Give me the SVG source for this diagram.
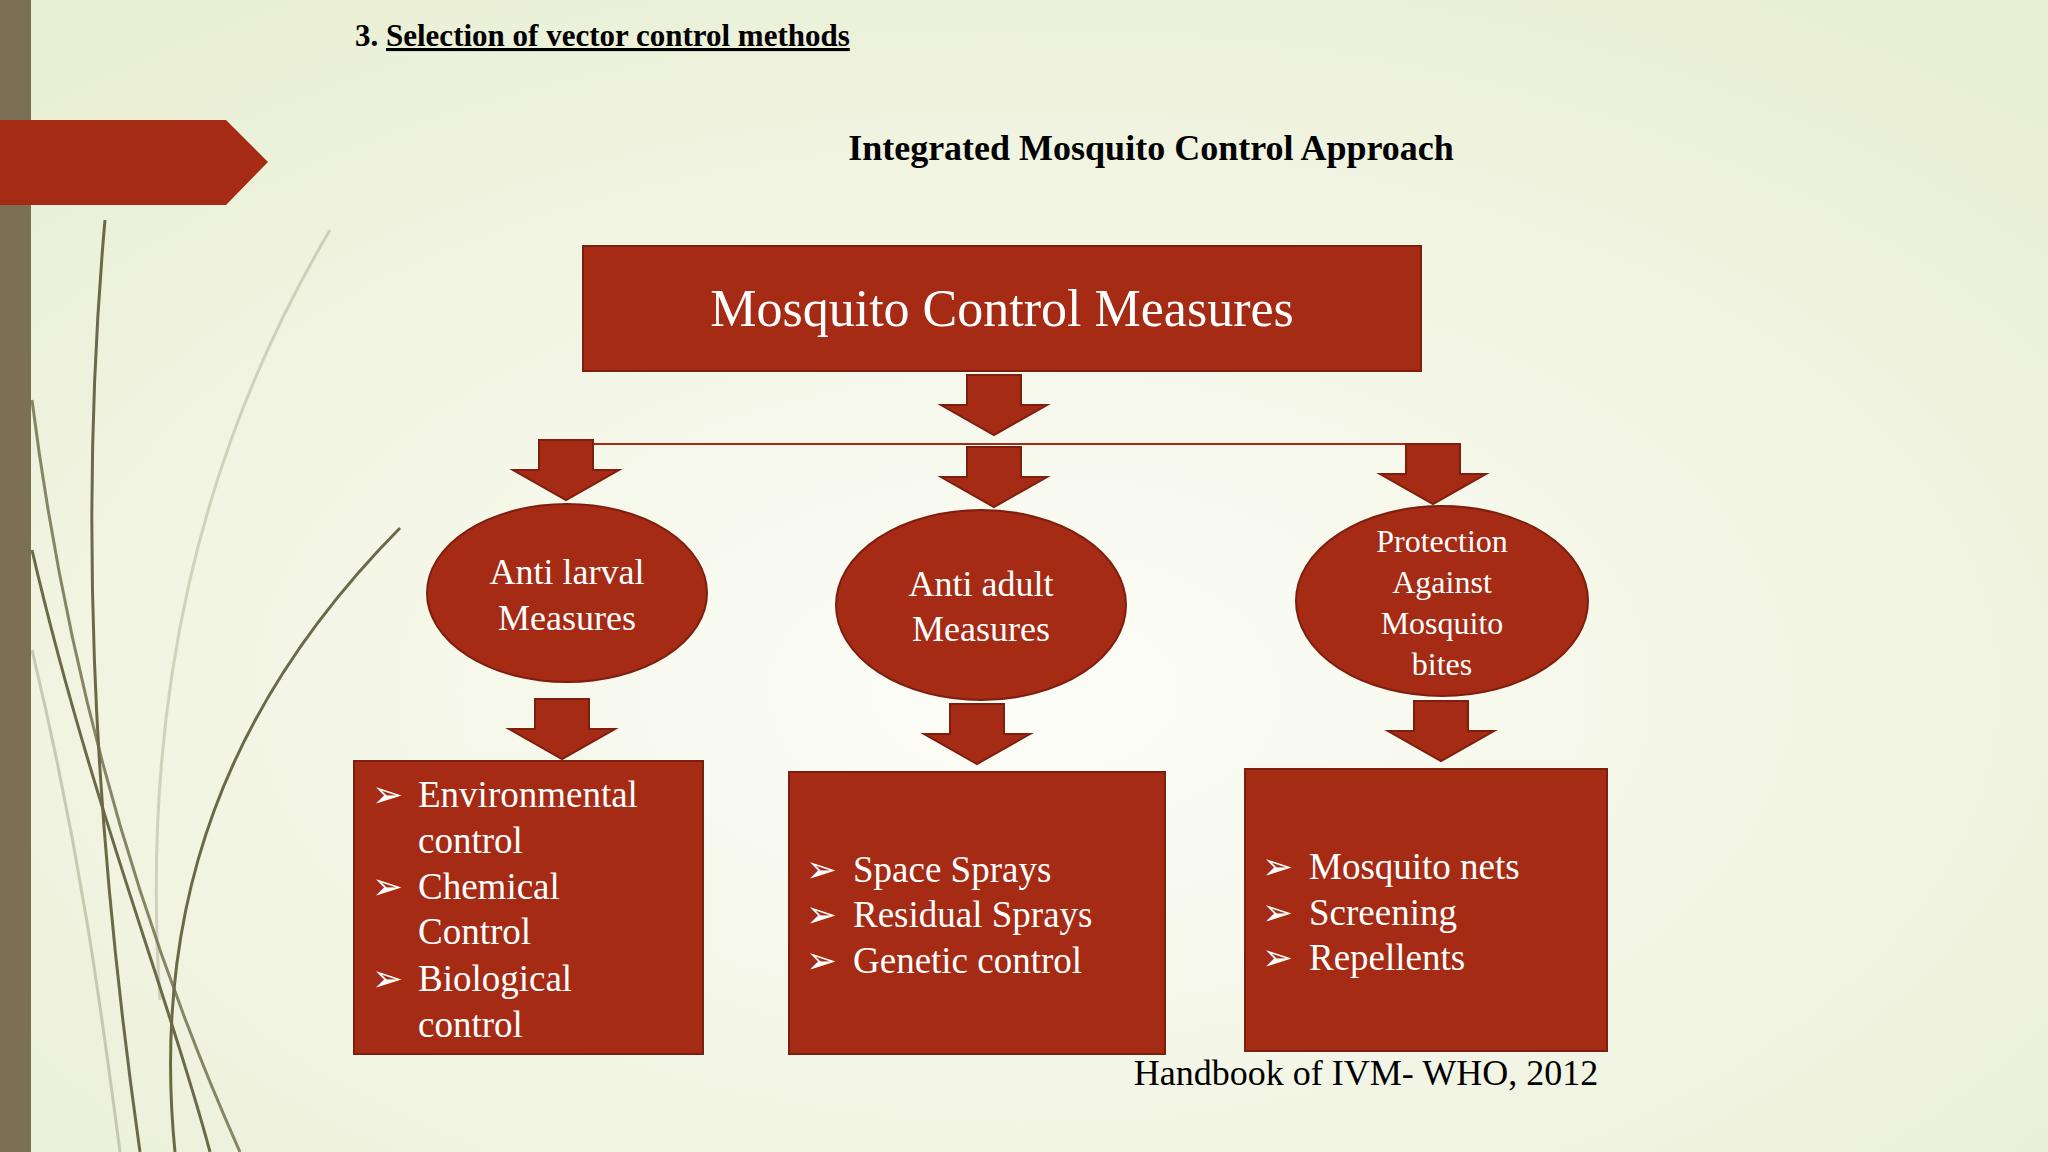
<svg xmlns="http://www.w3.org/2000/svg" width="2048" height="1152" viewBox="0 0 2048 1152">
<defs>
<radialGradient id="bg" cx="0.5" cy="0.6" r="0.75">
<stop offset="0" stop-color="#fdfdf8"/><stop offset="1" stop-color="#e8eed2"/>
</radialGradient>
<path id="arr" d="M-27,0 H27 V30 H53 L0,60 L-53,30 H-27 Z"/>
</defs>
<style>
.r{fill:#a52b15;stroke:#7e1e0e;stroke-width:2}
.w{fill:#ffffff;font-family:"Liberation Serif",serif}
.c{text-anchor:middle}
.k{fill:#000;font-family:"Liberation Serif",serif}
.d{fill:none;stroke:#6b6a48;stroke-width:3}
</style>
<rect width="2048" height="1152" fill="url(#bg)"/>
<rect x="0" y="0" width="31" height="1152" fill="#7b7055"/>
<g class="d">
<path d="M105,220 C80,500 90,800 140,1152"/>
<path d="M32,400 C70,700 150,950 240,1152" stroke-opacity="0.8"/>
<path d="M32,550 C90,800 170,1000 210,1152"/>
<path d="M400,528 C230,700 150,900 175,1152"/>
<path d="M330,230 C200,450 140,700 160,1000" stroke-opacity="0.25"/>
<path d="M32,650 C80,850 100,1000 120,1152" stroke-opacity="0.3"/>
</g>
<path d="M0,120 H226 L268,162 L226,205 H0 Z" fill="#a52b15"/>
<text x="355" y="46" class="k" font-size="31" font-weight="bold">3. <tspan text-decoration="underline">Selection of vector control methods</tspan></text>
<text x="1151" y="160" class="k c" font-size="36" font-weight="bold">Integrated Mosquito Control Approach</text>
<g id="connectors" fill="#a52b15" stroke="#7e1e0e" stroke-width="2">
<line x1="592" y1="444" x2="1433" y2="444" stroke="#a52b15"/>
<use href="#arr" transform="translate(994,375)"/>
<use href="#arr" transform="translate(566,440)"/>
<use href="#arr" transform="translate(994,447)"/>
<use href="#arr" transform="translate(1433,444)"/>
<use href="#arr" transform="translate(562,699)"/>
<use href="#arr" transform="translate(977,704)"/>
<use href="#arr" transform="translate(1441,701)"/>
</g>
<g id="top"><rect class="r" x="583" y="246" width="838" height="125"/>
<text x="1002" y="326" class="w c" font-size="52">Mosquito Control Measures</text></g>
<g id="e1"><ellipse class="r" cx="567" cy="593" rx="140" ry="89"/>
<text class="w c" font-size="36" x="567" y="584">Anti larval</text><text class="w c" font-size="36" x="567" y="630">Measures</text></g>
<g id="e2"><ellipse class="r" cx="981" cy="605" rx="145" ry="95"/>
<text class="w c" font-size="36" x="981" y="596">Anti adult</text><text class="w c" font-size="36" x="981" y="641">Measures</text></g>
<g id="e3"><ellipse class="r" cx="1442" cy="601" rx="146" ry="95"/>
<text class="w c" font-size="32" x="1442" y="552">Protection</text><text class="w c" font-size="32" x="1442" y="593">Against</text><text class="w c" font-size="32" x="1442" y="634">Mosquito</text><text class="w c" font-size="32" x="1442" y="675">bites</text></g>
<g id="b1"><rect class="r" x="354" y="761" width="349" height="293"/>
<g class="w" font-size="37">
<text x="372" y="807">➢</text><text x="418" y="807">Environmental</text><text x="418" y="853">control</text>
<text x="372" y="899">➢</text><text x="418" y="899">Chemical</text><text x="418" y="944">Control</text>
<text x="372" y="991">➢</text><text x="418" y="991">Biological</text><text x="418" y="1037">control</text></g></g>
<g id="b2"><rect class="r" x="789" y="772" width="376" height="282"/>
<g class="w" font-size="37">
<text x="806" y="882">➢</text><text x="853" y="882">Space Sprays</text>
<text x="806" y="927">➢</text><text x="853" y="927">Residual Sprays</text>
<text x="806" y="973">➢</text><text x="853" y="973">Genetic control</text></g></g>
<g id="b3"><rect class="r" x="1245" y="769" width="362" height="282"/>
<g class="w" font-size="37">
<text x="1262" y="879">➢</text><text x="1309" y="879">Mosquito nets</text>
<text x="1262" y="925">➢</text><text x="1309" y="925">Screening</text>
<text x="1262" y="970">➢</text><text x="1309" y="970">Repellents</text></g></g>
<text x="1366" y="1085" class="k c" font-size="36">Handbook of IVM- WHO, 2012</text>
</svg>
